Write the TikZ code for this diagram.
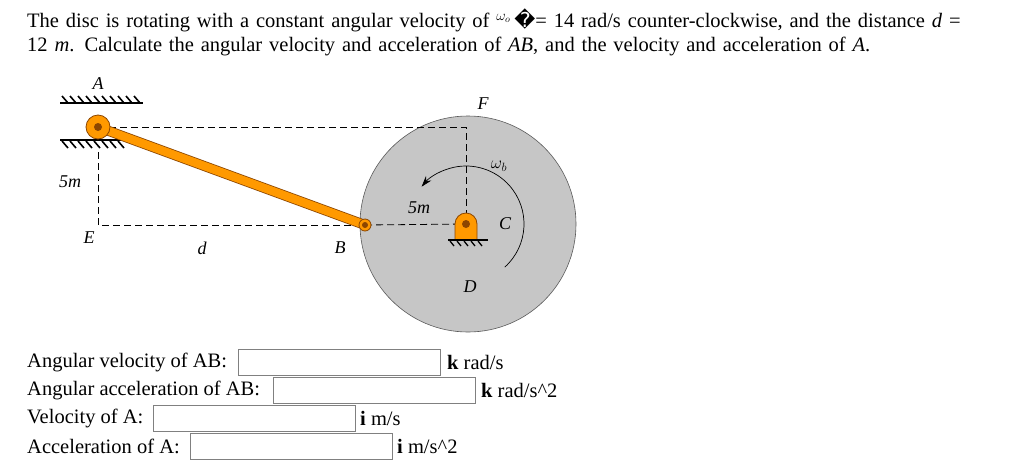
\documentclass[tikz,border=0pt]{standalone}
\usepackage{fontspec}
\setmainfont{Liberation Serif}
\newfontfamily\dejavu{DejaVu Sans}
\usetikzlibrary{arrows.meta}
\definecolor{org}{RGB}{255,153,0}
\definecolor{brn}{RGB}{140,70,0}
\begin{document}
\begin{tikzpicture}[x=1pt,y=-1pt,
  dsh/.style={dashed,dash pattern=on 7pt off 4pt,line width=0.8pt},
  lbl/.style={font=\fontsize{18}{18}\selectfont\itshape},
  txt/.style={font=\fontsize{20.5}{24}\selectfont,anchor=west,inner sep=0pt},
  fbox/.style={draw=gray,line width=0.8pt,anchor=north west,minimum height=26pt,inner sep=0pt},
  pin/.style={circle,fill=org,draw=brn,line width=0.8pt,minimum size=13pt,inner sep=0pt},
  hl/.style={line width=1.6pt}]
\useasboundingbox (0,0) rectangle (1024,461);
% title
\node[txt,anchor=north west,text width=990pt,align=left] (title) at (27,9) {The disc is rotating with a constant angular velocity of $^{\omega_o}$\,{\dejavu\char"FFFD}= 14 rad/s counter-clockwise, and the distance \textit{d} =\\12 \textit{m}. Calculate the angular velocity and acceleration of \textit{AB}, and the velocity and acceleration of \textit{A}.};
% disc
\node[circle,fill=gray!45,draw=gray!70!black,line width=0.6pt,minimum size=216pt] (disc) at (468,224) {};
% coordinates
\coordinate (A) at (98,127);
\coordinate (B) at (365,225);
\coordinate (C) at (466,224);
\coordinate (E) at (98,225);
\coordinate (F) at (466,127);
\coordinate (Etop) at (98,152);
% dashed
\draw[dsh] (A) -- (F) -- (C);
\draw[dsh] (B) -- (C);
\draw[dsh] (Etop) -- (E) -- (B);
% supports at A
\foreach \x in {62,70,...,138} \draw[hl] (\x,96) -- (\x+6,103);
\draw[line width=1.6pt] (60,103) -- (143,103);
\foreach \x in {62,70,...,124} \draw[hl] (\x,141) -- (\x+6,148);
\draw[line width=1.6pt] (60,140) -- (130,140);
% rod
\draw[line width=10pt,brn] (A) -- (B);
\draw[line width=8.4pt,org] (A) -- (B);
\node[pin,minimum size=24pt] (pA) at (A) {};
\node[circle,fill=brn,minimum size=8pt,inner sep=0pt] (pA2) at (A) {};
\node[pin,minimum size=12pt] (pB) at (B) {};
\node[circle,fill=brn,minimum size=6pt,inner sep=0pt] (pB2) at (B) {};
% support at C
\fill[org,draw=brn,line width=0.8pt] (455,240) -- (455,224) arc (180:360:11) -- (477,240) -- cycle;
\node[circle,fill=brn,minimum size=8pt,inner sep=0pt] (pC) at (C) {};
\foreach \x in {450,457,...,484} \draw[line width=1.3pt] (\x,241) -- (\x+4,246);
\draw[line width=1.4pt] (448,240) -- (488,240);
% omega arc
\draw[line width=0.7pt,-{Stealth[length=11pt,width=7pt]}] (C) ++(48:58) arc (48:-140:58);
% labels
\node[lbl] (lA) at (98,84) {A};
\node[lbl] (lF) at (483,104) {F};
\node[lbl] (l5a) at (70,182) {5m};
\node[lbl] (lE) at (89,238) {E};
\node[lbl] (ld) at (202,248) {d};
\node[lbl] (lB) at (340,248) {B};
\node[lbl] (l5b) at (419,208) {5m};
\node[lbl] (lC) at (505,224) {C};
\node[lbl] (lD) at (470,287) {D};
\node[lbl] (lw) at (499,166) {$\omega_b$};
% form
\node[txt] (q1) at (27,362) {Angular velocity of AB:};
\node[fbox,minimum width=202pt] (b1) at (238,349) {};
\node[txt] (u1) at (447,362) {\textbf{k} rad/s};
\node[txt] (q2) at (27,390) {Angular acceleration of AB:};
\node[fbox,minimum width=202pt] (b2) at (273,377) {};
\node[txt] (u2) at (481,390) {\textbf{k} rad/s\^{}2};
\node[txt] (q3) at (27,418) {Velocity of A:};
\node[fbox,minimum width=202pt] (b3) at (153,405) {};
\node[txt] (u3) at (360,418) {\textbf{i} m/s};
\node[txt] (q4) at (27,446) {Acceleration of A:};
\node[fbox,minimum width=202pt] (b4) at (190,433) {};
\node[txt] (u4) at (397,446) {\textbf{i} m/s\^{}2};
\end{tikzpicture}
\end{document}
